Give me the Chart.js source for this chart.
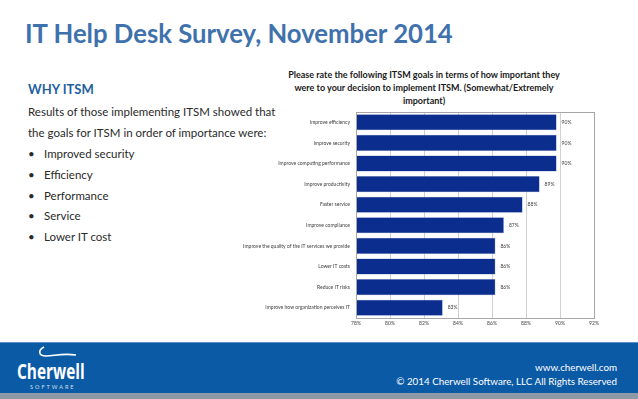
<!DOCTYPE html>
<html><head><meta charset="utf-8">
<script src="https://cdn.jsdelivr.net/npm/chart.js@4/dist/chart.umd.min.js"></script>
<style>
html,body{margin:0;padding:0;background:#fff;}
body{width:638px;height:399px;position:relative;overflow:hidden;font-family:Lato,"Open Sans",sans-serif;}
#title{position:absolute;left:25px;top:18px;font-weight:bold;font-size:25.7px;color:#3f72ac;white-space:nowrap;}
#why{position:absolute;left:28px;top:81px;font-weight:bold;font-size:13px;color:#1f5f9f;}
.ln{position:absolute;left:28px;font-size:11.5px;color:#2a2a2a;white-space:nowrap;}
.bl{position:absolute;left:28px;font-size:11.5px;color:#2a2a2a;white-space:nowrap;}
.bl span{position:absolute;left:16px;}
#ctitle{position:absolute;left:234px;width:380px;top:68px;text-align:center;font-weight:bold;font-size:9px;line-height:13px;color:#1a1a1a;}
#wrap{position:absolute;left:232px;top:62px;width:386px;height:266px;}
#footer{position:absolute;left:0;top:342px;width:638px;height:51px;background:#0b5aa6;border-top:1px solid #5b8fc8;}
#gray{position:absolute;left:0;top:393px;width:638px;height:6px;background:#8d9aa6;}
#logo{position:absolute;left:17px;top:355px;color:#fff;font-weight:bold;font-size:22px;font-family:"Open Sans",sans-serif;transform:scaleX(0.7);transform-origin:left top;}
#soft{position:absolute;left:30px;top:384px;color:#cfe0f2;font-size:5.5px;letter-spacing:2px;}
#r1{position:absolute;right:21px;top:361px;color:#fff;font-size:9.8px;}
#r2{position:absolute;right:21px;top:375px;color:#fff;font-size:9.8px;}
</style></head>
<body>
<div id="title">IT Help Desk Survey, November 2014</div>
<div id="why">WHY ITSM</div>
<div class="ln" style="top:105px">Results of those implementing ITSM showed that</div>
<div class="ln" style="top:126px">the goals for ITSM in order of importance were:</div>
<div class="bl" style="top:147px">•<span>Improved security</span></div>
<div class="bl" style="top:168px">•<span>Efficiency</span></div>
<div class="bl" style="top:189px">•<span>Performance</span></div>
<div class="bl" style="top:209px">•<span>Service</span></div>
<div class="bl" style="top:230px">•<span>Lower IT cost</span></div>
<div id="ctitle">Please rate the following ITSM goals in terms of how important they<br>were to your decision to implement ITSM. (Somewhat/Extremely<br>important)</div>
<div id="wrap"><canvas id="c"></canvas></div>
<div id="footer"></div>
<div id="gray"></div>
<svg style="position:absolute;left:32px;top:345px" width="50" height="16"><path d="M12 2 C6 5,6 11,14 11 C22 11,30 8,44 10" stroke="#fff" stroke-width="1.6" fill="none"/></svg>
<div id="logo">Cherwell</div>
<div id="soft">SOFTWARE</div>
<div id="r1">www.cherwell.com</div>
<div id="r2">© 2014 Cherwell Software, LLC All Rights Reserved</div>
<script>
const categories = [
  "Improve efficiency",
  "Improve security",
  "Improve computing performance",
  "Improve productivity",
  "Faster service",
  "Improve compliance",
  "Improve the quality of the IT services we provide",
  "Lower IT costs",
  "Reduce IT risks",
  "Improve how organization perceives IT"
];
const values = [89.8, 89.8, 89.8, 88.8, 87.8, 86.7, 86.2, 86.2, 86.2, 83.1];
const valueLabels = ["90%", "90%", "90%", "89%", "88%", "87%", "86%", "86%", "86%", "83%"];
const xTicks = [78, 80, 82, 84, 86, 88, 90, 92];

const framePlugin = {
  id: 'frame',
  afterDraw(chart) {
    const {ctx, chartArea: a} = chart;
    ctx.save();
    ctx.strokeStyle = '#a6a6a6';
    ctx.lineWidth = 1;
    ctx.strokeRect(Math.round(a.left)+0.5, Math.round(a.top)+0.5, Math.round(a.right-a.left), Math.round(a.bottom-a.top));
    ctx.restore();
  }
};
const labelPlugin = {
  id: 'vlabels',
  afterDatasetsDraw(chart) {
    const {ctx} = chart;
    const meta = chart.getDatasetMeta(0);
    ctx.save();
    ctx.font = '5px Lato';
    ctx.fillStyle = '#404040';
    ctx.textBaseline = 'middle';
    meta.data.forEach((bar, i) => {
      ctx.fillText(valueLabels[i], bar.x + 5, bar.y);
    });
    ctx.restore();
  }
};

new Chart(document.getElementById('c'), {
  type: 'bar',
  data: {
    labels: categories,
    datasets: [{
      data: values,
      backgroundColor: '#0b2d8e',
      borderColor: '#6f86c6',
      borderWidth: 0.5,
      barPercentage: 0.78,
      categoryPercentage: 1
    }]
  },
  options: {
    indexAxis: 'y',
    responsive: true,
    maintainAspectRatio: false,
    animation: false,
    layout: {padding: {left: 0, right: 24, top: 50, bottom: 0}},
    plugins: {
      legend: {display: false},
      tooltip: {enabled: false},
      title: {display: false}
    },
    scales: {
      x: {
        min: 78, max: 92,
        afterBuildTicks: s => { s.ticks = xTicks.map(v => ({value: v})); },
        ticks: {
          callback: v => v + '%',
          font: {family: 'Lato', size: 5},
          color: '#404040',
          padding: 2,
          maxRotation: 0
        },
        grid: {color: '#d0d0d0', drawTicks: false},
        border: {color: '#a6a6a6'}
      },
      y: {
        afterFit: s => { s.width = 124; },
        ticks: {
          font: {family: 'Lato', size: 5},
          color: '#404040',
          padding: 6,
          autoSkip: false
        },
        grid: {display: false, drawTicks: false},
        border: {color: '#a6a6a6'}
      }
    }
  },
  plugins: [framePlugin, labelPlugin]
});
</script>
</body></html>
